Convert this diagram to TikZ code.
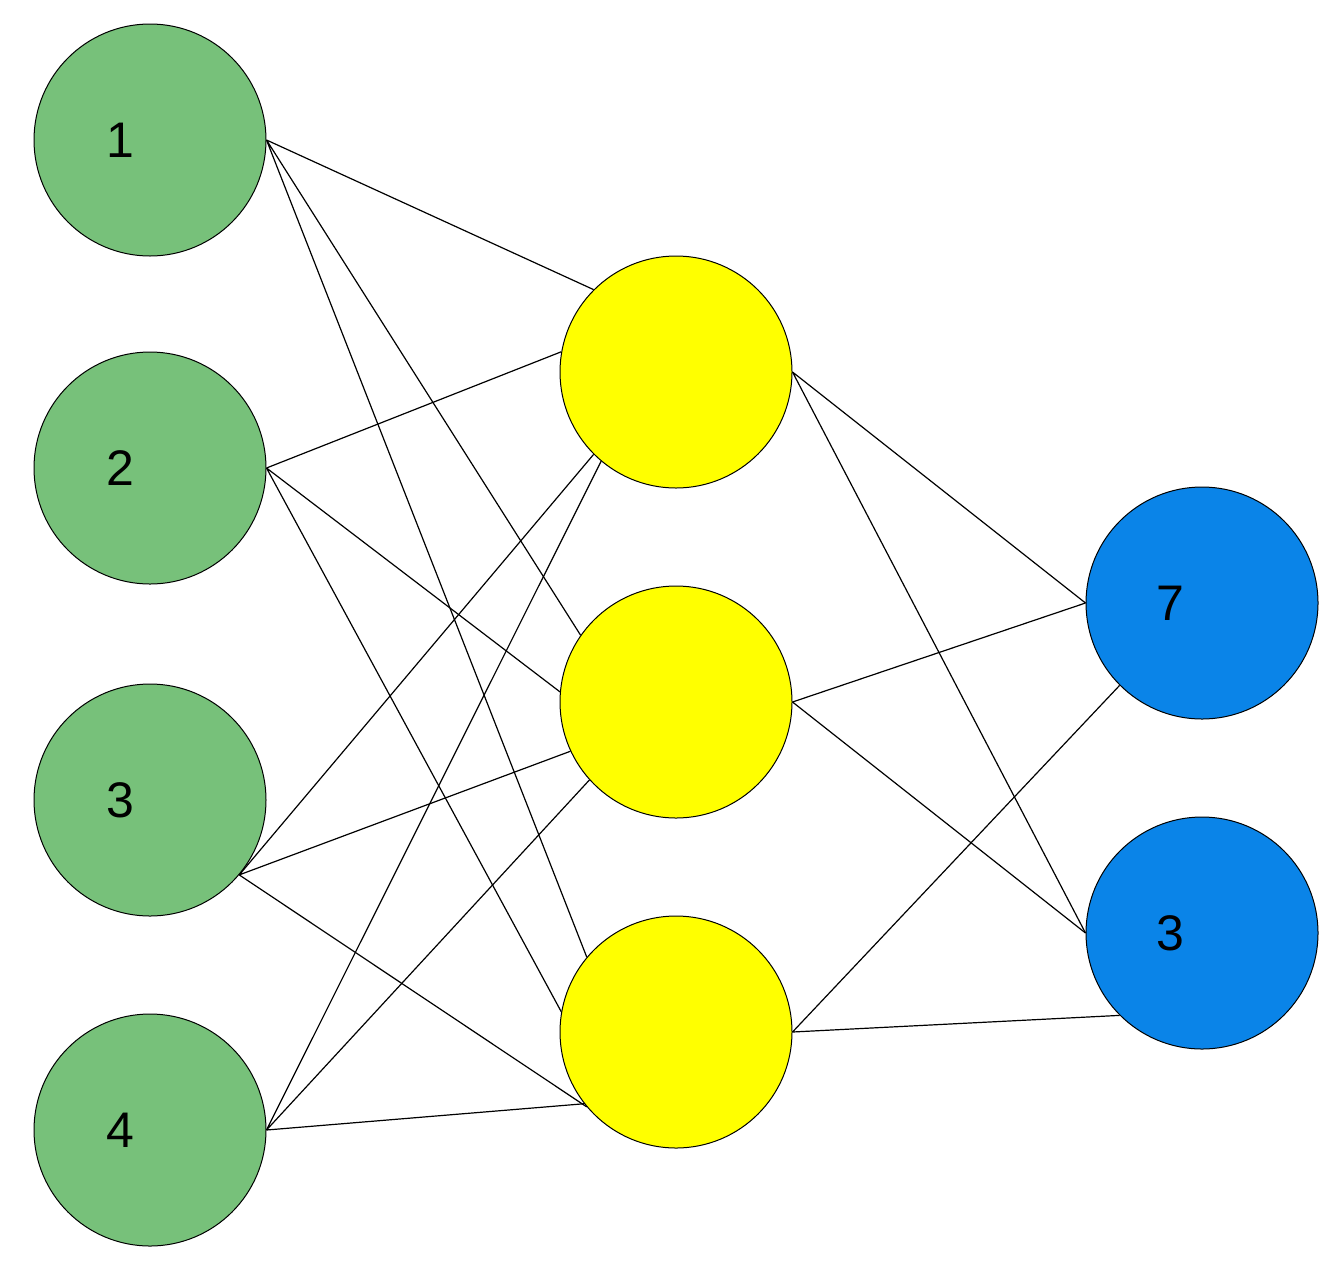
\documentclass[tikz,border=0pt]{standalone}
\usepackage{fontspec}
\setmainfont{Liberation Sans}
\definecolor{gr}{HTML}{77C17A}
\definecolor{yl}{HTML}{FFFF00}
\definecolor{bl}{HTML}{0A84E8}
\begin{document}
\begin{tikzpicture}[x=1pt,y=-1pt,
  neuron/.style={circle,draw=black,line width=1pt,minimum size=232pt,inner sep=0pt},
  lab/.style={font=\fontsize{50}{50}\selectfont},
  edge/.style={line width=1.2pt}]
\useasboundingbox (0,0) rectangle (1335,1272);
\foreach \n/\y in {1/140,2/468,3/800,4/1130}{
  \node[neuron,fill=gr] (g\n) at (150,\y) {};
  \node[lab] (gl\n) at (120,\y) {\n};}
\foreach \n/\y in {1/372,2/702,3/1032}{\node[neuron,fill=yl] (y\n) at (676,\y) {};}
\node[neuron,fill=bl] (b1) at (1202,603) {};
\node[lab] (bl1) at (1170,603) {7};
\node[neuron,fill=bl] (b2) at (1202,933) {};
\node[lab] (bl2) at (1170,933) {3};
\draw[edge] (g1.0) -- (y1.135) (g1.0) -- (y2.145) (g1.0) -- (y3.140);
\draw[edge] (g2.0) -- (y1.170) (g2.0) -- (y2.175) (g2.0) -- (y3.170);
\draw[edge] (g3.-40) -- (y1.225) (g3.-40) -- (y2.205) (g3.-40) -- (y3.220);
\draw[edge] (g4.0) -- (y1.230) (g4.0) -- (y2.222) (g4.0) -- (y3.218);
\draw[edge] (y1.0) -- (b1.180) (y1.0) -- (b2.180);
\draw[edge] (y2.0) -- (b1.180) (y2.0) -- (b2.180);
\draw[edge] (y3.0) -- (b1.225) (y3.0) -- (b2.225);
\end{tikzpicture}
\end{document}
